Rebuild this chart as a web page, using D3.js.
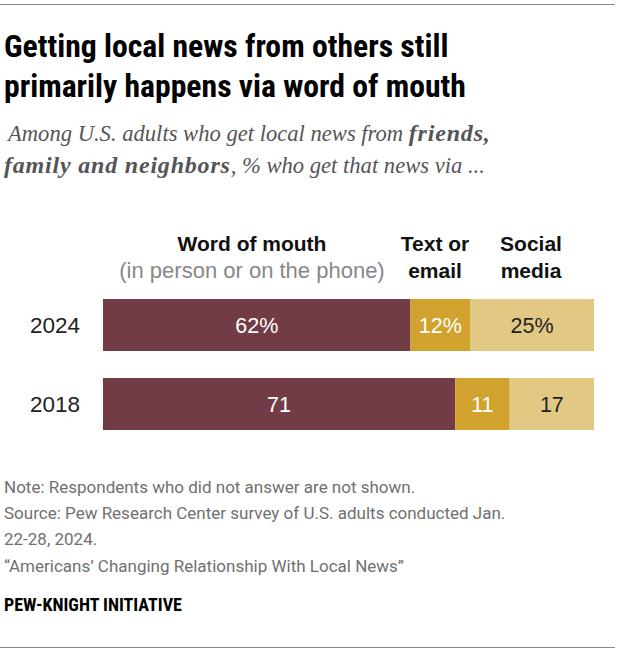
<!DOCTYPE html>
<html><head><meta charset="utf-8">
<script src="https://cdn.jsdelivr.net/npm/d3@7"></script>
<style>
body{margin:0;background:#fff;}
svg{display:block;}
</style></head>
<body>
<svg id="chart" width="620" height="652"></svg>
<script>
const years = ["2024", "2018"];
const series = ["Word of mouth", "Text or email", "Social media"];
const wordOfMouth = [62, 71];
const textOrEmail = [12, 11];
const socialMedia = [25, 17];
const valueLabels = [["62%", "12%", "25%"], ["71", "11", "17"]];
const colors = ["#723c47", "#d1a32e", "#e2c983"];
const labelColors = ["#ffffff", "#ffffff", "#222222"];

const svg = d3.select("#chart");
const sans = "'Liberation Sans', Arial, sans-serif";
const noteFont = "Roboto, 'Liberation Sans', sans-serif";
const narrow = "'Liberation Sans Narrow', 'Roboto Condensed', 'Liberation Sans', sans-serif";

// rules
svg.append("line").attr("x1",0).attr("x2",615).attr("y1",4.5).attr("y2",4.5).attr("stroke","#8a8a8a").attr("stroke-width",1);
svg.append("line").attr("x1",0).attr("x2",615).attr("y1",647.5).attr("y2",647.5).attr("stroke","#8a8a8a").attr("stroke-width",1);

// title
const title = svg.append("text").attr("font-family", narrow).attr("font-weight","bold").attr("font-size",31.7).attr("fill","#000");
title.append("tspan").attr("x",4).attr("y",57).text("Getting local news from others still");
title.append("tspan").attr("x",4).attr("y",97).text("primarily happens via word of mouth");

// subtitle
const sub = svg.append("text").attr("font-family","'Liberation Serif', 'DejaVu Serif', Georgia, serif").attr("font-style","italic").attr("font-size",22.6).attr("fill","#555");
const l1 = sub.append("tspan").attr("x",8).attr("y",141);
l1.append("tspan").text("Among U.S. adults who get local news from ");
l1.append("tspan").attr("font-weight","bold").attr("font-size",24).attr("letter-spacing",0.8).text("friends,");
const l2 = sub.append("tspan").attr("x",4).attr("y",173);
l2.append("tspan").attr("font-weight","bold").attr("font-size",24).attr("letter-spacing",0.8).text("family and neighbors");
l2.append("tspan").text(", % who get that news via ...");

// data table
const rows = years.map((y,i)=>({year:y, "Word of mouth":wordOfMouth[i], "Text or email":textOrEmail[i], "Social media":socialMedia[i], i}));
const stack = d3.stack().keys(series)(rows);

const x = d3.scaleLinear().domain([0, 99]).range([103, 594]);
const y = d3.scaleBand().domain(years).range([299, 430]).paddingInner(0.342);

// headers
const hdr = [
  {cx: 252, lines: [["Word of mouth", "bold", "#111", 21], ["(in person or on the phone)", "normal", "#888", 22]]},
  {cx: 435, lines: [["Text or", "bold", "#111", 21], ["email", "bold", "#111", 21]]},
  {cx: 531, lines: [["Social", "bold", "#111", 21], ["media", "bold", "#111", 21]]}
];
hdr.forEach(h=>{
  h.lines.forEach((ln,j)=>{
    svg.append("text").attr("x",h.cx).attr("y",251+j*27).attr("text-anchor","middle")
      .attr("font-family",sans).attr("font-size",ln[3]).attr("font-weight",ln[1]).attr("fill",ln[2]).text(ln[0]);
  });
});

// bars
stack.forEach((s,si)=>{
  const g = svg.append("g");
  g.selectAll("rect").data(s).join("rect")
    .attr("x", d=>x(d[0])).attr("width", d=>x(d[1])-x(d[0]))
    .attr("y", d=>y(d.data.year)).attr("height", y.bandwidth())
    .attr("fill", colors[si]);
  g.selectAll("text").data(s).join("text")
    .attr("x", d=>(x(d[0])+x(d[1]))/2)
    .attr("y", d=>y(d.data.year)+y.bandwidth()/2)
    .attr("dy","0.36em").attr("text-anchor","middle")
    .attr("font-family",sans).attr("font-size",21.5).attr("fill",labelColors[si])
    .text(d=>valueLabels[d.data.i][si]);
});

// year labels
svg.append("g").selectAll("text").data(years).join("text")
  .attr("x",80).attr("y",d=>y(d)+y.bandwidth()/2).attr("dy","0.36em").attr("text-anchor","end")
  .attr("font-family",sans).attr("font-size",22.5).attr("fill","#222").text(d=>d);

// notes
const notes = ["Note: Respondents who did not answer are not shown.",
  "Source: Pew Research Center survey of U.S. adults conducted Jan.",
  "22-28, 2024.",
  "\u201cAmericans\u2019 Changing Relationship With Local News\u201d"];
svg.append("g").selectAll("text").data(notes).join("text")
  .attr("x",4).attr("y",(d,i)=>493+i*26.2)
  .attr("font-family",noteFont).attr("font-size",17).attr("fill","#707070").text(d=>d);

svg.append("text").attr("x",4).attr("y",611).attr("font-family",narrow).attr("font-weight","bold")
  .attr("font-size",18).attr("fill","#000").text("PEW-KNIGHT INITIATIVE");
</script>
</body></html>
